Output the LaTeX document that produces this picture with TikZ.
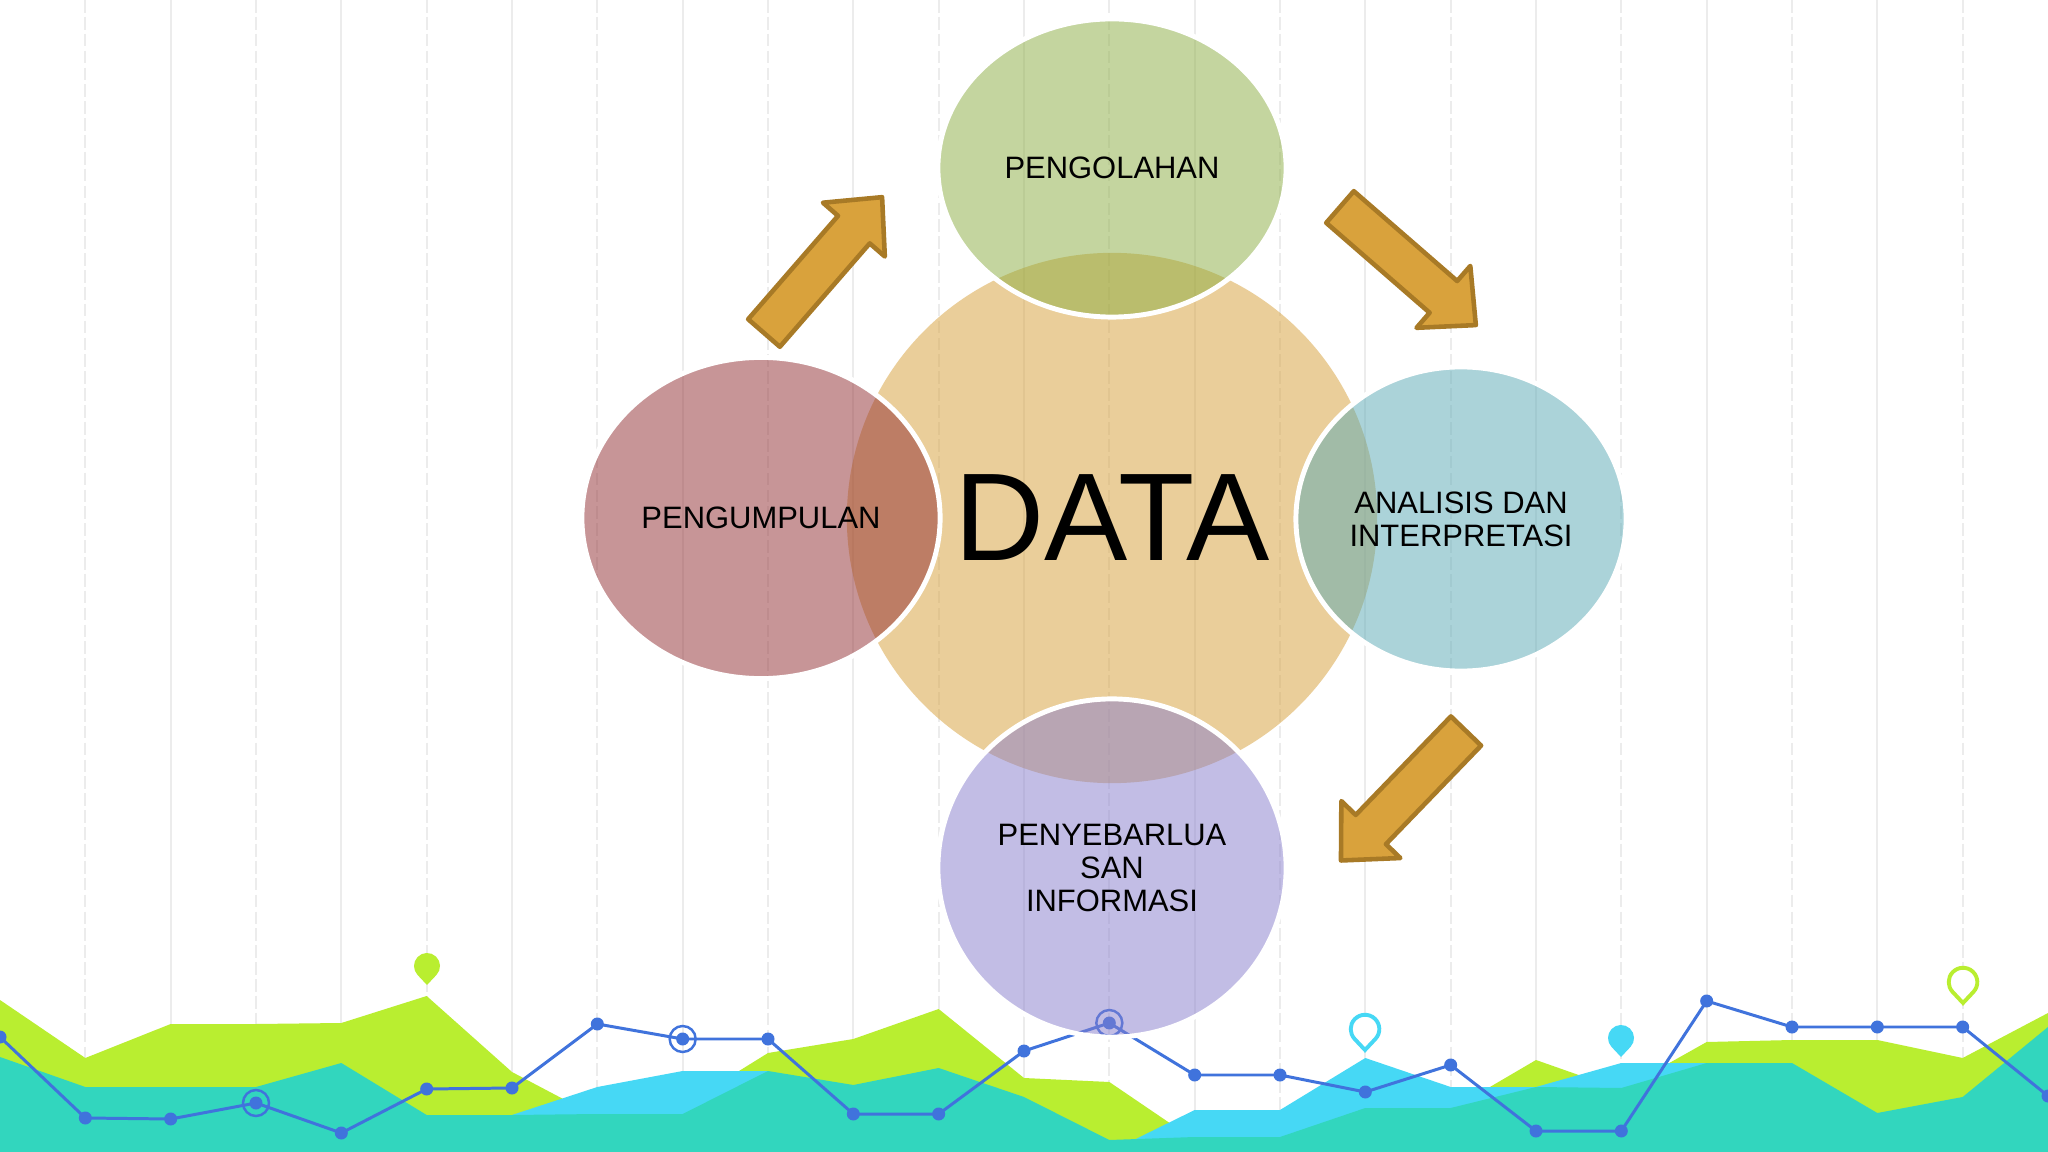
\documentclass[tikz,border=0pt]{standalone}
\usepackage{fontspec}
\setmainfont{Liberation Sans}
\usetikzlibrary{shapes.geometric, positioning}

\definecolor{limefill}{RGB}{185,238,48}
\definecolor{cyanfill}{RGB}{70,216,245}
\definecolor{tealfill}{RGB}{50,214,190}
\definecolor{trendblue}{RGB}{64,115,220}
\definecolor{dataorange}{RGB}{215,159,55}
\definecolor{olahgreen}{RGB}{139,173,65}
\definecolor{kumpulred}{RGB}{145,45,49}
\definecolor{analisisblue}{RGB}{89,169,181}
\definecolor{sebarpurple}{RGB}{135,125,205}
\definecolor{arrowfill}{RGB}{217,162,60}
\definecolor{arrowedge}{RGB}{168,122,38}
\definecolor{gridgray}{RGB}{236,236,236}

\begin{document}
\begin{tikzpicture}[
    x=0.01cm, y=-0.01cm,
    gridline/.style={draw=gridgray, line width=0.6pt},
    bubble/.style={ellipse, draw=white, line width=1.4pt, fill opacity=0.5, text opacity=1, inner sep=0pt, align=center, font=\fontsize{8.8}{9.4}\selectfont},
    blockarrow/.style={fill=arrowfill, draw=arrowedge, line width=1.3pt, line join=round},
    trend/.style={draw=trendblue, line width=0.85pt},
    mappin/.pic={\path[pic actions] (0,0) -- (0.0948cm,0.101cm) arc[start angle=-43.2, end angle=223.2, radius=0.13cm] -- cycle;}
]
\useasboundingbox (0,0) rectangle (2048,1152);
\fill[white] (0,0) rectangle (2048,1152);

% background grid
\foreach \k in {1,3,...,23} \draw[gridline, dash pattern=on 3.6pt off 1.2pt] (\k*85.333,0) -- (\k*85.333,1152);
\foreach \k in {2,4,...,22} \draw[gridline] (\k*85.333,0) -- (\k*85.333,1152);

% chart at the bottom
\fill[limefill] (0,1152) \foreach \y [count=\k from 0] in {1000,1058,1024,1024,1023,996,1072,1117,1106,1053,1039,1009,1078,1082,1140,1150,1150,1110,1060,1090,1042,1040,1040,1058,1013} {-- (\k*85.333,\y)} -- (2048,1152) -- cycle;
\fill[cyanfill] (0,1152) \foreach \y [count=\k from 0] in {1152,1152,1152,1152,1152,1152,1115,1087,1071,1071,1120,1125,1140,1152,1110,1110,1058,1087,1087,1063,1063,1152,1152,1152,1152} {-- (\k*85.333,\y)} -- (2048,1152) -- cycle;
\fill[tealfill] (0,1152) \foreach \y [count=\k from 0] in {1057,1087,1087,1087,1063,1115,1115,1114,1114,1071,1085,1068,1097,1140,1137,1137,1108,1108,1087,1088,1063,1063,1113,1097,1027} {-- (\k*85.333,\y)} -- (2048,1152) -- cycle;

\draw[trend] (0,1037) \foreach \y [count=\k] in {1118,1119,1103,1133,1089,1088,1024,1039,1039,1114,1114,1051,1023,1075,1075,1092,1065,1131,1131,1001,1027,1027,1027,1096} {-- (\k*85.333,\y)};
\foreach \y [count=\k from 0] in {1037,1118,1119,1103,1133,1089,1088,1024,1039,1039,1114,1114,1051,1023,1075,1075,1092,1065,1131,1131,1001,1027,1027,1027,1096}
    \fill[trendblue] (\k*85.333,\y) circle[radius=0.065cm];
\foreach \k/\y in {3/1103, 8/1039, 13/1023}
    \draw[trendblue, line width=0.7pt] (\k*85.333,\y) circle[radius=0.13cm];

\pic[fill=limefill] at (427,985) {mappin};
\pic[fill=cyanfill] at (1621,1057) {mappin};
\pic[draw=cyanfill, fill=white, line width=1.1pt, scale=1.1] at (1365,1050) {mappin};
\pic[draw=limefill, fill=white, line width=1.1pt, scale=1.1] at (1963,1003) {mappin};

% cycle
\node[circle, fill=dataorange, fill opacity=0.5, text opacity=1, minimum size=5.3cm, inner sep=0pt, font=\fontsize{35.5}{40}\selectfont] (data) at (1112,518) {DATA};
\node[bubble, fill=olahgreen, minimum width=3.48cm, minimum height=2.98cm] (olah) at (1112,168) {PENGOLAHAN};
\node[bubble, fill=kumpulred, minimum width=3.58cm, minimum height=3.21cm] (kumpul) at (761,518) {PENGUMPULAN};
\node[bubble, fill=analisisblue, minimum width=3.30cm, minimum height=3.04cm] (analisis) at (1461,519) {ANALISIS DAN\\INTERPRETASI};
\node[bubble, fill=sebarpurple, minimum width=3.48cm, minimum height=3.38cm] (sebar) at (1112,868) {PENYEBARLUA\\SAN\\INFORMASI};

\coordinate (tailA) at (764,333);
\coordinate (tailB) at (1340,207);
\coordinate (tailC) at (1466,731);
\foreach \t/\a in {tailA/49, tailB/-41, tailC/-134}
    \draw[blockarrow, shift={(\t)}, rotate=\a] (0,-21) -- (137,-21) -- (137,-41) -- (180,0) -- (137,41) -- (137,21) -- (0,21) -- cycle;
\end{tikzpicture}
\end{document}
